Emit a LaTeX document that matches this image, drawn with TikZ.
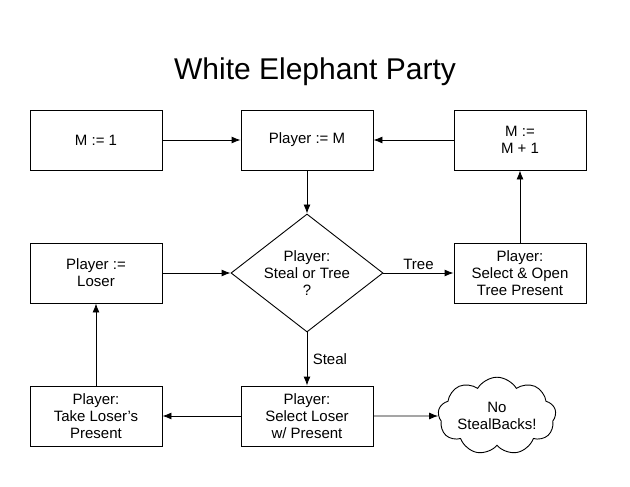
\documentclass[tikz,border=0pt]{standalone}
\usepackage{fontspec}
\setmainfont{Liberation Sans}
\usetikzlibrary{shapes.geometric,shapes.symbols,arrows.meta}
\begin{document}
\begin{tikzpicture}[x=1pt,y=-1pt,
  box/.style={draw,line width=0.9pt,minimum width=132pt,minimum height=60pt,align=center,font=\fontsize{15}{17}\selectfont},
  arr/.style={-{Latex[length=9pt,width=7pt]},line width=0.9pt},
  lab/.style={font=\fontsize{15}{17}\selectfont}]
\useasboundingbox (0,0) rectangle (630,487);
\node[font=\fontsize{30}{34}\selectfont] (title) at (315,72) {White Elephant Party};
\node[box] (m1) at (96,140) {M := 1};
\node[box] (pm) at (307,140) {Player := M};
\node[box] (mp) at (520,140) {M :=\\M + 1};
\node[draw,line width=0.9pt,diamond,aspect=1.28,minimum width=152pt,minimum height=118pt,inner sep=0pt,align=center,font=\fontsize{15}{17}\selectfont] (d) at (307,273) {Player:\\Steal or Tree\\?};
\node[box] (pl) at (96,273) {Player :=\\Loser};
\node[box] (tp) at (520,273) {Player:\\Select \& Open\\Tree Present};
\node[box] (tk) at (96,416) {Player:\\Take Loser's\\Present};
\node[box] (sl) at (307,416) {Player:\\Select Loser\\w/ Present};
\node[draw,line width=0.9pt,cloud,cloud puffs=9,cloud puff arc=120,aspect=1.9,minimum width=118pt,minimum height=66pt,align=center,inner sep=0pt,font=\fontsize{15}{17}\selectfont] (c) at (497,416) {No\\StealBacks!};
\draw[arr] (m1) -- (pm);
\draw[arr] (mp) -- (pm);
\draw[arr] (pm) -- (d);
\draw[arr] (d) -- node[lab,above] {Tree} (tp);
\draw[arr] (d) -- node[lab,right,xshift=2pt] {Steal} (sl);
\draw[arr] (pl) -- (d);
\draw[arr] (tp) -- (mp);
\draw[arr] (sl) -- (tk);
\draw[arr] (sl) -- (c.west);
\draw[arr] (tk) -- (pl);
\end{tikzpicture}
\end{document}
